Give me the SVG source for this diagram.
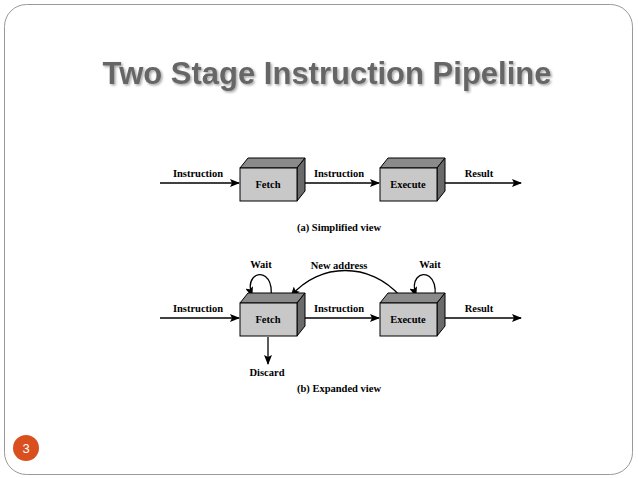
<svg xmlns="http://www.w3.org/2000/svg" width="638" height="478" viewBox="0 0 638 478">
<defs>
<marker id="ah" markerWidth="10" markerHeight="8" refX="9" refY="4" orient="auto" markerUnits="userSpaceOnUse"><path d="M0,0 L10,4 L0,8 L2,4 Z" fill="#000"/></marker>
<filter id="sh"><feDropShadow dx="1.5" dy="1.5" stdDeviation="1" flood-color="#000" flood-opacity="0.35"/></filter>
</defs>
<style>
.t{font-family:"Liberation Serif",serif;font-weight:bold;font-size:10.5px;fill:#000}
.c{stroke:#000;stroke-width:1.3;fill:none}
.front{fill:#c8c8c8;stroke:#000;stroke-width:1}
.top{fill:#8a8a8a;stroke:#000;stroke-width:1}
.side{fill:#6a6a6a;stroke:#000;stroke-width:1}
</style>
<rect x="4.5" y="4.5" width="628" height="470" rx="22" fill="#fff" stroke="#999" stroke-width="1"/>
<text x="327" y="84" text-anchor="middle" font-family="Liberation Sans,Arial,sans-serif" font-weight="bold" font-size="31" fill="#666" filter="url(#sh)">Two Stage Instruction Pipeline</text>
<g id="connectors">
<path class="c" d="M160,183 L239,183" marker-end="url(#ah)"/>
<path class="c" d="M301,183 L379,183" marker-end="url(#ah)"/>
<path class="c" d="M441,183 L521,183" marker-end="url(#ah)"/>
<path class="c" d="M160,318 L239,318" marker-end="url(#ah)"/>
<path class="c" d="M301,318 L379,318" marker-end="url(#ah)"/>
<path class="c" d="M441,318 L521,318" marker-end="url(#ah)"/>
<path class="c" d="M268,337 L268,364" marker-end="url(#ah)"/>
<path class="c" d="M271,296 C273,276 260,270 253,278 C249,283 250,290 252,296" marker-end="url(#ah)"/>
<path class="c" d="M435,296 C437,276 424,270 417,278 C413,283 414,290 416,296" marker-end="url(#ah)"/>
<path class="c" d="M400,296 C370,262 320,262 291,296" marker-end="url(#ah)"/>
</g>
<g id="fetch-a"><path class="top" d="M240,168 L248,158 L305,158 L297,168 Z"/><path class="side" d="M297,168 L305,158 L305,191 L297,201 Z"/><rect class="front" x="240" y="168" width="57" height="33"/><text class="t" x="268" y="188" text-anchor="middle">Fetch</text></g>
<g id="execute-a"><path class="top" d="M380,168 L388,158 L445,158 L437,168 Z"/><path class="side" d="M437,168 L445,158 L445,191 L437,201 Z"/><rect class="front" x="380" y="168" width="57" height="33"/><text class="t" x="408" y="188" text-anchor="middle">Execute</text></g>
<g id="fetch-b"><path class="top" d="M240,303 L248,293 L305,293 L297,303 Z"/><path class="side" d="M297,303 L305,293 L305,326 L297,336 Z"/><rect class="front" x="240" y="303" width="57" height="33"/><text class="t" x="268" y="323" text-anchor="middle">Fetch</text></g>
<g id="execute-b"><path class="top" d="M380,303 L388,293 L445,293 L437,303 Z"/><path class="side" d="M437,303 L445,293 L445,326 L437,336 Z"/><rect class="front" x="380" y="303" width="57" height="33"/><text class="t" x="408" y="323" text-anchor="middle">Execute</text></g>
<text class="t" x="198" y="177" text-anchor="middle">Instruction</text>
<text class="t" x="339" y="177" text-anchor="middle">Instruction</text>
<text class="t" x="479" y="177" text-anchor="middle">Result</text>
<text class="t" x="339" y="231" text-anchor="middle">(a) Simplified view</text>
<text class="t" x="198" y="312" text-anchor="middle">Instruction</text>
<text class="t" x="339" y="312" text-anchor="middle">Instruction</text>
<text class="t" x="479" y="312" text-anchor="middle">Result</text>
<text class="t" x="261" y="268" text-anchor="middle">Wait</text>
<text class="t" x="430" y="268" text-anchor="middle">Wait</text>
<text class="t" x="339" y="269" text-anchor="middle">New address</text>
<text class="t" x="267" y="376" text-anchor="middle">Discard</text>
<text class="t" x="339" y="392" text-anchor="middle">(b) Expanded view</text>
<circle cx="26" cy="448" r="13" fill="#d9501e"/>
<text x="26" y="453" text-anchor="middle" font-family="Liberation Sans,sans-serif" font-size="13" fill="#fff">3</text>
</svg>
